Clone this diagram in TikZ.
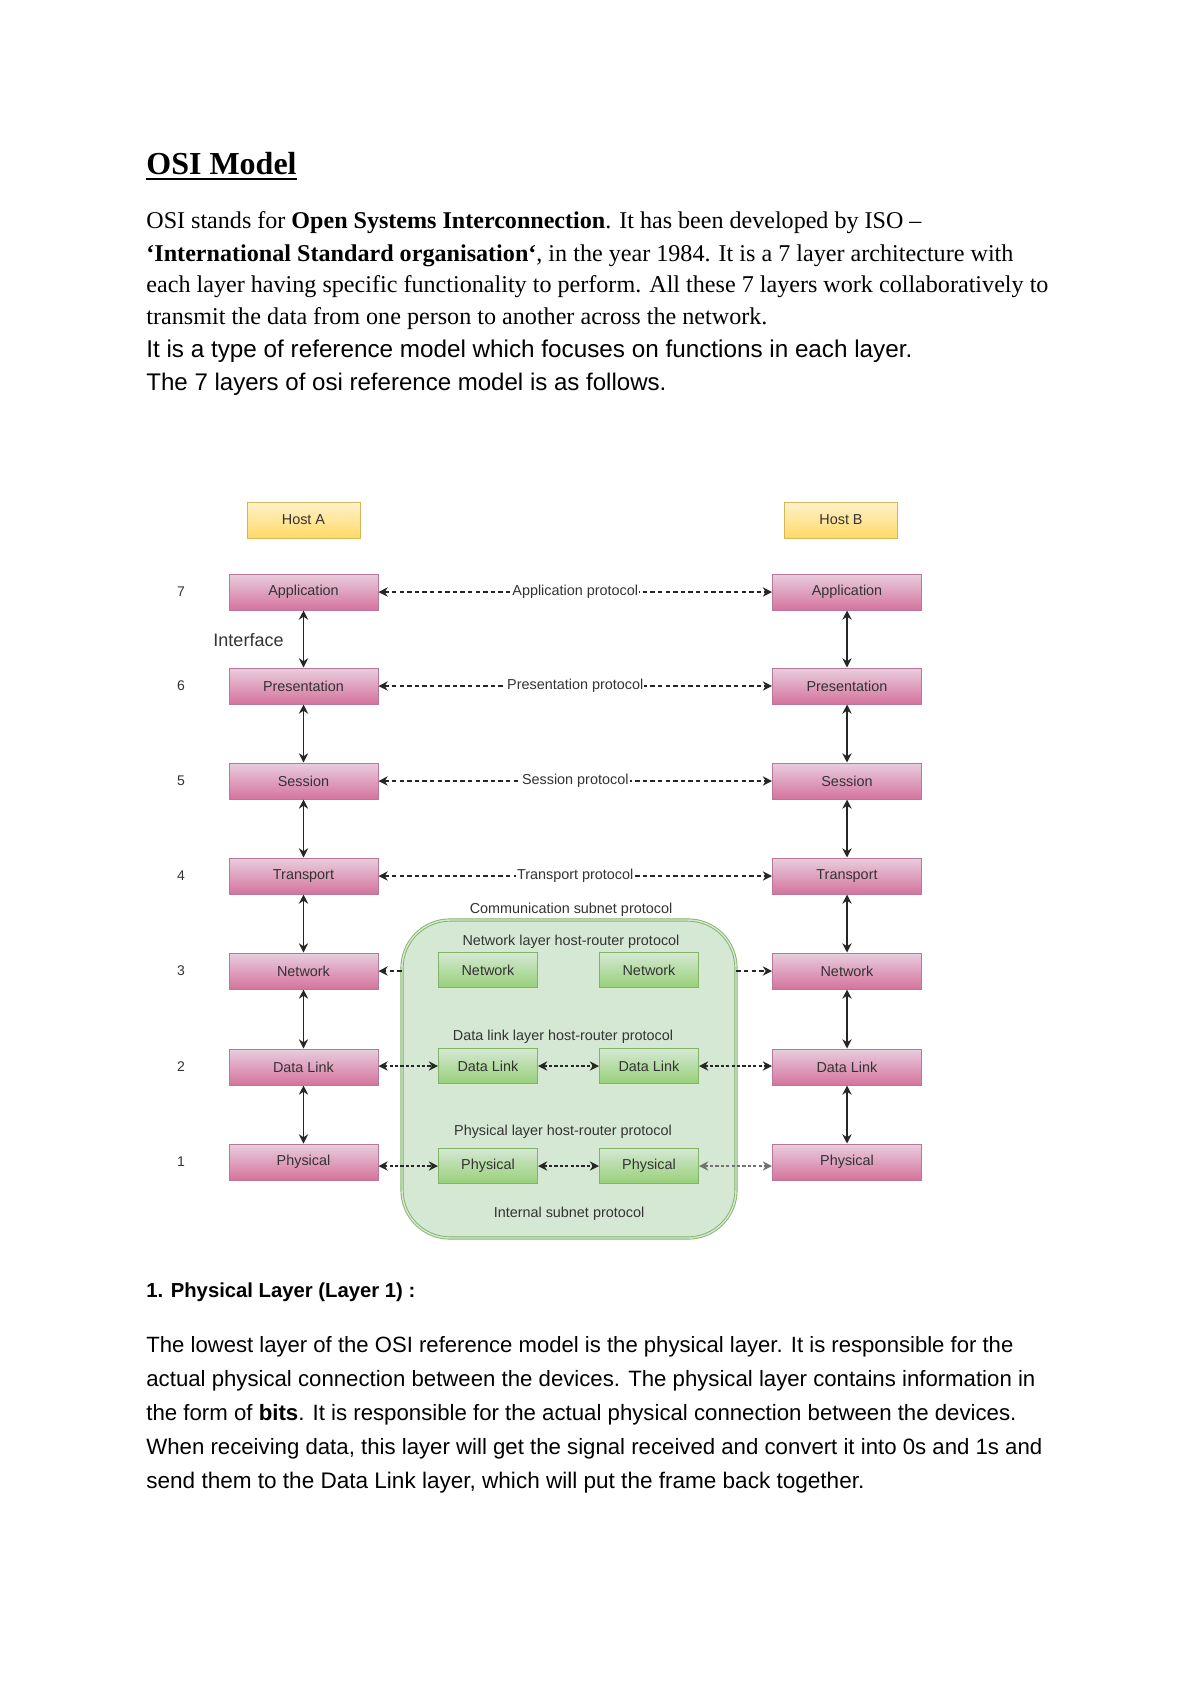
\documentclass[tikz,border=0pt]{standalone}
\usepackage{fontspec}
\setmainfont{Liberation Serif}
\setsansfont{Liberation Sans}
\usetikzlibrary{arrows.meta}
\definecolor{pinkT}{HTML}{E8CEDD}
\definecolor{pinkB}{HTML}{D5739D}
\definecolor{pinkS}{HTML}{B9789A}
\definecolor{yelT}{HTML}{FFF2CC}
\definecolor{yelB}{HTML}{FFD966}
\definecolor{yelS}{HTML}{D6B656}
\definecolor{grnT}{HTML}{D5E8D4}
\definecolor{grnB}{HTML}{97D077}
\definecolor{grnS}{HTML}{82B366}
\definecolor{subF}{HTML}{D5E8D4}
\definecolor{txt}{HTML}{333333}
\newcommand{\fitline}[2]{\resizebox{#1}{!}{#2}}
\tikzset{
  dfont/.style={font=\sffamily\fontsize{7.2}{8.5}\selectfont, text=txt},
  pinkbox/.style={draw=pinkS, line width=0.5pt, top color=pinkT, bottom color=pinkB, minimum width=74.5pt, minimum height=18pt, inner sep=0pt, dfont},
  hostbox/.style={draw=yelS, line width=0.5pt, top color=yelT, bottom color=yelB, minimum width=56.5pt, minimum height=18pt, inner sep=0pt, dfont},
  grnbox/.style={draw=grnS, line width=0.5pt, top color=grnT, bottom color=grnB, minimum width=49.5pt, minimum height=17.5pt, inner sep=0pt, dfont},
  container/.style={draw=grnS, line width=0.45pt, double=subF, double distance=0.7pt, fill=subF, rounded corners=24pt, minimum width=167pt, minimum height=159pt, inner sep=0pt},
  tip/.tip={Stealth[length=4.6pt,width=4.6pt,inset=1.5pt]},
  vert/.style={line width=0.75pt, draw=black!85, {tip}-{tip}},
  proto/.style={line width=0.55pt, draw=black!85, dash pattern=on 2.2pt off 1.6pt, {tip}-{tip}},
  halfproto/.style={line width=0.55pt, draw=black!85, dash pattern=on 2.2pt off 1.6pt, -{tip}},
  dotar/.style={line width=0.8pt, draw=black!85, dash pattern=on 1.6pt off 1.1pt, {tip}-{tip}},
  plabel/.style={fill=white, inner sep=0.6pt, dfont},
  sublabel/.style={inner sep=0pt, dfont},
  numlbl/.style={inner sep=0pt, font=\sffamily\fontsize{7}{8}\selectfont, text=txt},
  bodyline/.style={anchor=base west, inner sep=0pt},
}
\begin{document}
\begin{tikzpicture}[x=0.5pt,y=-0.5pt]
\useasboundingbox[fill=white] (0,0) rectangle (1200,1698);

% ---- heading and text ----
\node[bodyline] (title) at (146,174) {\fontsize{16}{19}\selectfont\bfseries OSI Model};
\draw[line width=1.1pt] ([yshift=-2.6pt]title.base west) -- ([yshift=-2.6pt]title.base east);

\node[bodyline] (p1) at (146,228.5) {\fitline{387.5pt}{\fontsize{12}{14}\selectfont OSI stands for \textbf{Open Systems Interconnection}. It has been developed by ISO –}};
\node[bodyline] (p2) at (146,261) {\fitline{433.5pt}{\fontsize{12}{14}\selectfont \textbf{‘International Standard organisation‘}, in the year 1984. It is a 7 layer architecture with}};
\node[bodyline] (p3) at (146,292.5) {\fitline{451pt}{\fontsize{12}{14}\selectfont each layer having specific functionality to perform. All these 7 layers work collaboratively to}};
\node[bodyline] (p4) at (146,324) {\fitline{310.5pt}{\fontsize{12}{14}\selectfont transmit the data from one person to another across the network.}};
\node[bodyline] (s1) at (146,357.5) {\fitline{383pt}{\sffamily\fontsize{12}{14}\selectfont It is a type of reference model which focuses on functions in each layer.}};
\node[bodyline] (s2) at (146,390) {\fitline{260pt}{\sffamily\fontsize{12}{14}\selectfont The 7 layers of osi reference model is as follows.}};

% ---- diagram ----
\node[hostbox] (hA) at (303.5,520) {Host A};
\node[hostbox] (hB) at (841,520) {Host B};

\node[container] (sub) at (569,1079) {};

\foreach \n/\y/\t in {7/592/Application,6/686/Presentation,5/781/Session,4/876/Transport,3/971/Network,2/1067/Data Link,1/1162/Physical}{
  \node[pinkbox] (L\n) at (303.5,\y) {\t};
  \node[pinkbox] (R\n) at (847,\y) {\t};
  \node[numlbl] (num\n) at (181,\y) {\n};
}

\node[inner sep=0pt, font=\sffamily\fontsize{9}{10}\selectfont, text=txt] (iface) at (248.5,640) {Interface};

\node[grnbox] (GN1) at (488,970) {Network};
\node[grnbox] (GN2) at (649,970) {Network};
\node[grnbox] (GD1) at (488,1066) {Data Link};
\node[grnbox] (GD2) at (649,1066) {Data Link};
\node[grnbox] (GP1) at (488,1166) {Physical};
\node[grnbox] (GP2) at (649,1166) {Physical};

\node[sublabel] (csp) at (571,910) {Communication subnet protocol};
\node[sublabel] (nlp) at (571,942) {Network layer host-router protocol};
\node[sublabel] (dlp) at (563,1037) {Data link layer host-router protocol};
\node[sublabel] (plp) at (563,1132) {Physical layer host-router protocol};
\node[sublabel] (isp) at (569,1214) {Internal subnet protocol};

% vertical interfaces
\foreach \a/\b in {7/6,6/5,5/4,4/3,3/2,2/1}{
  \draw[vert] (L\a) -- (L\b);
  \draw[vert] (R\a) -- (R\b);
}

% peer protocols
\draw[proto] (L7) -- node[plabel] (ap) {Application protocol} (R7);
\draw[proto] (L6) -- node[plabel] (pp) {Presentation protocol} (R6);
\draw[proto] (L5) -- node[plabel] (sp) {Session protocol} (R5);
\draw[proto] (L4) -- node[plabel] (tp) {Transport protocol} (R4);

\draw[halfproto] (sub.west |- L3.east) -- (L3.east);
\draw[halfproto] (sub.east |- R3.west) -- (R3.west);

\draw[dotar] (L2.east |- GD1.west) -- (GD1.west);
\draw[dotar] (GD1) -- (GD2);
\draw[dotar] (GD2.east) -- (R2.west |- GD2.east);

\draw[dotar] (L1.east |- GP1.west) -- (GP1.west);
\draw[dotar] (GP1) -- (GP2);
\draw[dotar, draw=black!55] (GP2.east) -- (R1.west |- GP2.east);

% ---- lower text ----
\node[bodyline] (h1) at (146,1297.5) {\fitline{134.5pt}{\sffamily\bfseries\fontsize{12}{14}\selectfont 1. Physical Layer (Layer 1) :}};
\node[bodyline] (b1) at (146,1352.5) {\fitline{433.5pt}{\sffamily\fontsize{12}{14}\selectfont The lowest layer of the OSI reference model is the physical layer. It is responsible for the}};
\node[bodyline] (b2) at (146,1386) {\fitline{444.5pt}{\sffamily\fontsize{12}{14}\selectfont actual physical connection between the devices. The physical layer contains information in}};
\node[bodyline] (b3) at (146,1420) {\fitline{435pt}{\sffamily\fontsize{12}{14}\selectfont the form of \textbf{bits}. It is responsible for the actual physical connection between the devices.}};
\node[bodyline] (b4) at (146,1454.5) {\fitline{448pt}{\sffamily\fontsize{12}{14}\selectfont When receiving data, this layer will get the signal received and convert it into 0s and 1s and}};
\node[bodyline] (b5) at (146,1488) {\fitline{359pt}{\sffamily\fontsize{12}{14}\selectfont send them to the Data Link layer, which will put the frame back together.}};
\end{tikzpicture}
\end{document}
